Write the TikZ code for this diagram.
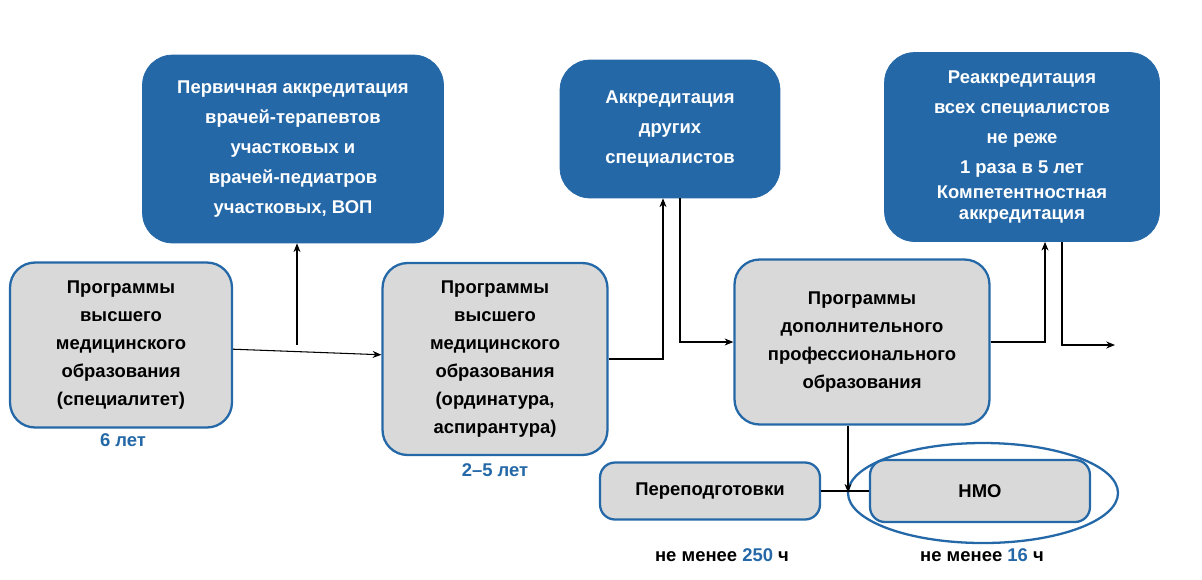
\documentclass[tikz,border=0pt]{standalone}
\usepackage{fontspec}
\setmainfont{Liberation Sans}
\usetikzlibrary{arrows.meta}
\definecolor{accblue}{HTML}{2468A8}
\definecolor{progray}{HTML}{D9D9D9}
\tikzset{
    graybox/.style={draw=accblue, line width=1.3pt, fill=progray, rounded corners=0.5cm, align=center, inner sep=0cm, font=\fontsize{10.5}{16}\selectfont\bfseries},
    bluebox/.style={draw=accblue, fill=accblue, rounded corners=0.6cm, align=center, inner sep=0cm, text=white, font=\fontsize{10.5}{17}\selectfont\bfseries},
    note/.style={font=\fontsize{10.5}{13}\selectfont\bfseries},
    flow/.style={-{Stealth[length=5pt,width=4pt]}, line width=0.6pt}
}
\begin{document}
\begin{tikzpicture}[x=0.02cm, y=-0.02cm]
    \useasboundingbox (0,0) rectangle (1202,579);

    \node[graybox, minimum width=4.44cm, minimum height=3.3cm] (spec) at (121,345) {Программы\\высшего\\медицинского\\образования\\(специалитет)};
    \node[note, text=accblue] (spec years) at (123,440) {6 лет};
    \node[bluebox, minimum width=6.02cm, minimum height=3.76cm] (prim) at (293,149) {Первичная аккредитация\\врачей-терапевтов\\участковых и\\врачей-педиатров\\участковых, ВОП};

    \node[graybox, minimum width=4.5cm, minimum height=3.84cm] (ord) at (495,359) {Программы\\высшего\\медицинского\\образования\\(ординатура,\\аспирантура)};
    \node[note, text=accblue] (ord years) at (495,470) {2–5 лет};
    \node[bluebox, minimum width=4.4cm, minimum height=2.76cm] (other) at (670,129) {Аккредитация\\других\\специалистов};

    \node[graybox, minimum width=5.1cm, minimum height=3.3cm] (dpo) at (862,342) {Программы\\дополнительного\\профессионального\\образования};
    \node[bluebox, minimum width=5.5cm, minimum height=3.78cm] (reacc) at (1022,147) {Реаккредитация\\всех специалистов\\не реже\\1 раза в 5 лет\\[-3pt]Компетентностная\\[-5pt]аккредитация};

    \node[graybox, rounded corners=0.3cm, minimum width=4.4cm, minimum height=1.14cm] (retrain) at (710,491) {Переподготовки};
    \node[graybox, rounded corners=0.3cm, minimum width=4.4cm, minimum height=1.24cm] (nmo) at (980,491) {НМО};
    \draw[accblue, line width=1.3pt] (983,493) ellipse [x radius=135, y radius=50];
    \node[note] (retrain hours) at (722,555) {не менее \textcolor{accblue}{250} ч};
    \node[note] (nmo hours) at (982,555) {не менее \textcolor{accblue}{16} ч};

    \coordinate (fork) at (297,345);
    \coordinate (end) at (1115,345);
    \draw[flow] (spec) -- (ord);
    \draw[flow] (fork) -- (fork |- prim.south);
    \draw[flow] (ord.east) -| ([xshift=-0.14cm]other.south);
    \draw[flow] ([xshift=0.2cm]other.south) |- (dpo.west);
    \draw[flow] (dpo.east) -| ([xshift=0.46cm]reacc.south);
    \draw[flow] ([xshift=0.8cm]reacc.south) |- (end);
    \draw[line width=0.6pt] (retrain) -- (nmo);
    \draw[flow] ([xshift=-0.28cm]dpo.south) -- ++(0,67);
\end{tikzpicture}
\end{document}
